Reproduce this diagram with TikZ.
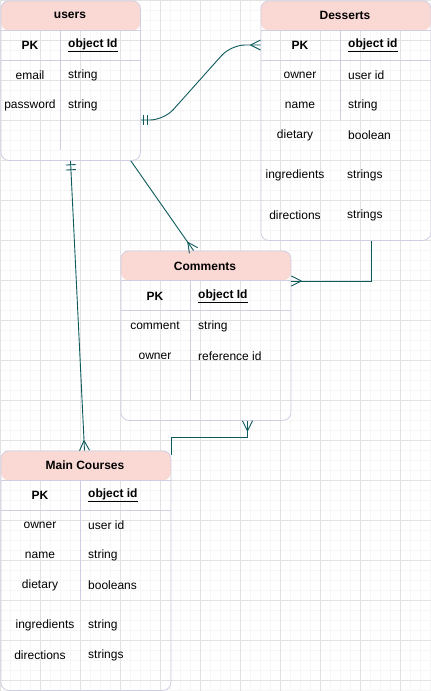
\documentclass[tikz,border=0pt]{standalone}
\usepackage{fontspec}
\setmainfont{Liberation Sans}
\usetikzlibrary{calc}
\definecolor{hdr}{HTML}{FAD9D5}
\definecolor{bdr}{HTML}{D0CEE2}
\definecolor{lnk}{HTML}{0E5A5C}
\definecolor{gmin}{HTML}{F6F6F6}
\definecolor{gmaj}{HTML}{E2E2E2}
\newcommand\crowfoot[2]{%
  \draw[rel] ($(#1)!10pt!(#2)$) -- ($(#1)!5pt!90:(#2)$)
             ($(#1)!10pt!(#2)$) -- ($(#1)!5pt!-90:(#2)$);}
\newcommand\erbar[3]{%
  \path ($(#1)!#3!(#2)$) coordinate (tk);
  \draw[rel] ($(tk)!5pt!90:(#2)$) -- ($(tk)!5pt!-90:(#2)$);}
\begin{document}
\begin{tikzpicture}[x=1pt,y=-1pt,
  txt/.style={font=\fontsize{12}{14}\selectfont, inner sep=0pt, text=black},
  hd/.style={font=\fontsize{12}{14}\selectfont\bfseries, inner sep=0pt, text=black},
  lft/.style={txt, anchor=west},
  lfth/.style={hd, anchor=west},
  erbox/.style={draw=bdr, line width=0.8pt, rounded corners=8pt, inner sep=0pt,
    anchor=north west,
    path picture={\fill[hdr] (path picture bounding box.north west) rectangle
      ([yshift=-29.5pt]path picture bounding box.north east);}},
  sep/.style={draw=bdr, line width=0.8pt},
  rel/.style={draw=lnk, line width=0.9pt},
]
\useasboundingbox (0,0) rectangle (431,691);
\fill[white] (0,0) rectangle (431,691);
% grid
\foreach \i in {0,10,...,430} \draw[gmin, line width=0.6pt] (\i+0.5,0) -- (\i+0.5,691);
\foreach \i in {0,10,...,690} \draw[gmin, line width=0.6pt] (0,\i+0.5) -- (431,\i+0.5);
\foreach \i in {0,40,...,430} \draw[gmaj, line width=0.8pt] (\i+0.5,0) -- (\i+0.5,691);
\foreach \i in {0,40,...,690} \draw[gmaj, line width=0.8pt] (0,\i+0.5) -- (431,\i+0.5);

% boxes
\node[erbox, minimum width=139.5pt, minimum height=159.5pt] (users) at (0.5,0.5) {};
\node[erbox, minimum width=170pt, minimum height=239.5pt] (desserts) at (260.5,0.5) {};
\node[erbox, minimum width=170pt, minimum height=169.5pt] (comments) at (120.5,250.5) {};
\node[erbox, minimum width=170pt, minimum height=239.5pt] (main) at (0.5,450.5) {};

% users internals
\draw[sep] (0.5,30) -- (140,30);
\draw[sep] (0.5,60) -- (140,60);
\draw[sep] (60.5,30) -- (60.5,150);
\node[hd] (uT) at (70,15.5) {users};
\node[hd] (uPK) at (30,45.5) {PK};
\node[lfth] (uID) at (68,45.5) {\underline{object Id}};
\node[txt] (uE) at (30,75.5) {email};
\node[lft] (uEt) at (68,75.5) {string};
\node[txt] (uP) at (30,105.5) {password};
\node[lft] (uPt) at (68,105.5) {string};

% desserts internals
\draw[sep] (260.5,30) -- (430.5,30);
\draw[sep] (260.5,60) -- (430.5,60);
\draw[sep] (340.5,30) -- (340.5,120);
\node[hd] (dT) at (345,15.5) {Desserts};
\node[hd] (dPK) at (300,45.5) {PK};
\node[lfth] (dID) at (348,45.5) {\underline{object id}};
\node[txt] (dO) at (300,75.5) {owner};
\node[lft] (dOt) at (348,75.5) {user id};
\node[txt] (dN) at (300,105.5) {name};
\node[lft] (dNt) at (348,105.5) {string};
\node[txt] (dD) at (295,135.5) {dietary};
\node[lft] (dDt) at (348,135.5) {boolean};
\node[txt] (dI) at (295,175.5) {ingredients};
\node[lft] (dIt) at (347,175.5) {strings};
\node[txt] (dR) at (295,215.5) {directions};
\node[lft] (dRt) at (347,215.5) {strings};

% comments internals
\draw[sep] (120.5,280) -- (290.5,280);
\draw[sep] (120.5,310) -- (290.5,310);
\draw[sep] (190.5,280) -- (190.5,400);
\node[hd] (cT) at (205,266) {Comments};
\node[hd] (cPK) at (155,296) {PK};
\node[lfth] (cID) at (198,296) {\underline{object Id}};
\node[txt] (cC) at (155,326) {comment};
\node[lft] (cCt) at (198,326) {string};
\node[txt] (cO) at (155,356) {owner};
\node[lft] (cOt) at (198,356) {reference id};

% main courses internals
\draw[sep] (0.5,480) -- (170.5,480);
\draw[sep] (0.5,510) -- (170.5,510);
\draw[sep] (80.5,480) -- (80.5,600);
\node[hd] (mT) at (85,465.5) {Main Courses};
\node[hd] (mPK) at (40,495.5) {PK};
\node[lfth] (mID) at (88,495.5) {\underline{object id}};
\node[txt] (mO) at (40,525.5) {owner};
\node[lft] (mOt) at (88,525.5) {user id};
\node[txt] (mN) at (40,555.5) {name};
\node[lft] (mNt) at (88,555.5) {string};
\node[txt] (mD) at (40,585.5) {dietary};
\node[lft] (mDt) at (88,585.5) {booleans};
\node[txt] (mI) at (45,625.5) {ingredients};
\node[lft] (mIt) at (88,625.5) {string};
\node[txt] (mR) at (40,655.5) {directions};
\node[lft] (mRt) at (88,655.5) {strings};

% connector end points
\coordinate (c1s) at ($(users.north east)+(0,119.5)$);
\coordinate (c1a) at (164,120);
\coordinate (c1b) at (231,45);
\coordinate (c1e) at ($(desserts.north west)+(0,44.5)$);
\coordinate (c2s) at ($(users.south east)+(-10,0)$);
\coordinate (c2e) at ($(comments.north west)+(73,0)$);
\coordinate (c3s) at ($(users.south west)+(70,0)$);
\coordinate (c3e) at ($(main.north west)+(84,0)$);
\coordinate (c4s) at ($(desserts.south west)+(110.5,0)$);
\coordinate (c4e) at ($(comments.north east)+(0,30.5)$);
\coordinate (c4a) at (c4s |- c4e);
\coordinate (c5s) at ($(main.north east)+(0,4.5)$);
\coordinate (c5e) at ($(comments.south west)+(127,0)$);
\coordinate (c5a) at (c5s |- 0,437.5);
\coordinate (c5b) at (c5e |- c5a);

% connectors
\draw[rel, rounded corners=14pt] (c1s) -- (c1a) -- (c1b) -- (c1e);
\erbar{c1s}{c1a}{3pt}
\erbar{c1s}{c1a}{7pt}
\crowfoot{c1e}{c1b}

\draw[rel] (c2s) -- (c2e);
\crowfoot{c2e}{c2s}

\draw[rel] (c3s) -- (c3e);
\erbar{c3s}{c3e}{4pt}
\erbar{c3s}{c3e}{9pt}
\crowfoot{c3e}{c3s}

\draw[rel] (c4s) -- (c4a) -- (c4e);
\crowfoot{c4e}{c4a}

\draw[rel] (c5s) -- (c5a) -- (c5b) -- (c5e);
\crowfoot{c5e}{c5b}
\end{tikzpicture}
\end{document}
